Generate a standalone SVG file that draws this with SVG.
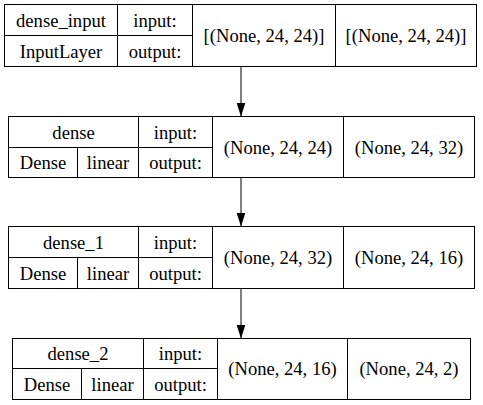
<svg xmlns="http://www.w3.org/2000/svg" width="483" height="405" viewBox="0 0 483 405">
<style>
.b{fill:none;stroke:#000;stroke-width:1}
.t{font-family:"Liberation Serif","Times New Roman",serif;font-size:18.6px;fill:#000;text-anchor:middle}
.e{stroke:#000;stroke-width:1;fill:none}
</style>
<defs>
<marker id="ah" markerWidth="14" markerHeight="10" refX="14" refY="5" orient="auto" markerUnits="userSpaceOnUse" viewBox="0 0 14 10">
<path d="M0,0.5 L14,5 L0,9.5 Z" fill="#000"/>
</marker>
</defs>
<rect width="483" height="405" fill="#fff"/>
<g id="node_dense_input">
<rect class="b" x="4.5" y="4.5" width="472" height="62"/>
<path class="b" d="M4.5,35.5H192.5M117.5,4.5V66.5M192.5,4.5V66.5M335.5,4.5V66.5"/>
<text class="t" x="61" y="26.5">dense_input</text>
<text class="t" x="61" y="57.5">InputLayer</text>
<text class="t" x="155" y="26.5">input:</text>
<text class="t" x="155" y="57.5">output:</text>
<text class="t" x="264" y="42">[(None, 24, 24)]</text>
<text class="t" x="406" y="42">[(None, 24, 24)]</text>
</g>
<g id="node_dense">
<rect class="b" x="8.5" y="116.5" width="466" height="61"/>
<path class="b" d="M8.5,147.5H212.5M77.5,147.5V177.5M138.5,116.5V177.5M212.5,116.5V177.5M343.5,116.5V177.5"/>
<text class="t" x="73.5" y="138.5">dense</text>
<text class="t" x="43" y="169">Dense</text>
<text class="t" x="108" y="169">linear</text>
<text class="t" x="175.5" y="138.5">input:</text>
<text class="t" x="175.5" y="169">output:</text>
<text class="t" x="278" y="153.5">(None, 24, 24)</text>
<text class="t" x="409" y="153.5">(None, 24, 32)</text>
</g>
<g id="node_dense_1">
<rect class="b" x="8.5" y="226.5" width="466" height="62"/>
<path class="b" d="M8.5,257.5H212.5M77.5,257.5V288.5M138.5,226.5V288.5M212.5,226.5V288.5M343.5,226.5V288.5"/>
<text class="t" x="73.5" y="248.5">dense_1</text>
<text class="t" x="43" y="279.5">Dense</text>
<text class="t" x="108" y="279.5">linear</text>
<text class="t" x="175.5" y="248.5">input:</text>
<text class="t" x="175.5" y="279.5">output:</text>
<text class="t" x="278" y="264">(None, 24, 32)</text>
<text class="t" x="409" y="264">(None, 24, 16)</text>
</g>
<g id="node_dense_2">
<rect class="b" x="12.5" y="338.5" width="458" height="61"/>
<path class="b" d="M12.5,368.5H217.5M81.5,368.5V399.5M143.5,338.5V399.5M217.5,338.5V399.5M347.5,338.5V399.5"/>
<text class="t" x="78" y="360">dense_2</text>
<text class="t" x="47" y="390.5">Dense</text>
<text class="t" x="112.5" y="390.5">linear</text>
<text class="t" x="180.5" y="360">input:</text>
<text class="t" x="180.5" y="390.5">output:</text>
<text class="t" x="282.5" y="375">(None, 24, 16)</text>
<text class="t" x="409" y="375">(None, 24, 2)</text>
</g>
<g id="connectors">
<line class="e" x1="241" y1="66.5" x2="241" y2="116.5" marker-end="url(#ah)"/>
<line class="e" x1="241" y1="177.5" x2="241" y2="226.5" marker-end="url(#ah)"/>
<line class="e" x1="241" y1="288.5" x2="241" y2="338.5" marker-end="url(#ah)"/>
</g>
</svg>
